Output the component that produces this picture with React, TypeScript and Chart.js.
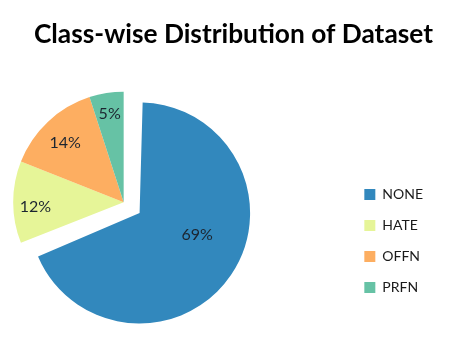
import React, { useEffect, useRef } from "react";
import { Chart, registerables } from "chart.js";

Chart.register(...registerables);

const TITLE = "Class-wise Distribution of Dataset";
const categories = ["NONE", "HATE", "OFFN", "PRFN"];
const shares = [69, 12, 14, 5];
const sliceColors = ["#3288bd", "#e6f598", "#fdae61", "#66c2a5"];
const sliceOffsets = [77, 0, 0, 0];

const FONT = "Lato, 'Open Sans', sans-serif";
// the canvas extends 100px past the left edge of the window so the pie can sit left of the legend
const SHIFT = 100;
const W = 474 + SHIFT;
const H = 354;

// Chart.js enlarges the radius of exploded slices; undo that so an exploded slice is only moved out
const radiusGrowth = (arc: any) => {
  const off = (arc.options.offset || 0) / 4;
  return off * (1 - Math.sin(Math.min(Math.PI, arc.circumference || 0)));
};

const pureExplode = {
  id: "pureExplode",
  afterDatasetsUpdate(chart: any) {
    chart.getDatasetMeta(0).data.forEach((arc: any) => {
      arc.outerRadius -= radiusGrowth(arc);
    });
  },
};

const percentLabels = {
  id: "percentLabels",
  afterDatasetsDraw(chart: any, _args: any, opts: any) {
    const meta = chart.getDatasetMeta(0);
    const data = chart.data.datasets[0].data as number[];
    const total = data.reduce((a, b) => a + b, 0);
    const ctx = chart.ctx;
    ctx.save();
    ctx.font = opts.font;
    ctx.fillStyle = opts.color;
    ctx.textAlign = "center";
    ctx.textBaseline = "middle";
    meta.data.forEach((arc: any, i: number) => {
      const mid = (arc.startAngle + arc.endAngle) / 2;
      const off = (arc.options.offset || 0) / 4;
      const cx = arc.x + Math.cos(mid) * off;
      const cy = arc.y + Math.sin(mid) * off;
      const place = opts.placement[i];
      const a = mid + (place.da * Math.PI) / 180;
      const r = (arc.outerRadius + radiusGrowth(arc)) * place.r;
      const txt = Math.round((data[i] / total) * 100) + "%";
      ctx.fillText(txt, cx + Math.cos(a) * r, cy + Math.sin(a) * r);
    });
    ctx.restore();
  },
};

export default function App() {
  const ref = useRef<HTMLCanvasElement | null>(null);
  useEffect(() => {
    if (!ref.current) return;
    const chart = new Chart(ref.current, {
      type: "pie",
      data: {
        labels: categories,
        datasets: [
          {
            data: shares,
            backgroundColor: sliceColors,
            borderWidth: 0,
            offset: sliceOffsets,
            radius: 110.5,
          } as any,
        ],
      },
      options: {
        animation: false,
        responsive: false,
        events: [],
        layout: { padding: { left: 0, right: 41, top: 0, bottom: 5.2 } },
        plugins: {
          title: {
            display: true,
            text: TITLE,
            align: "end",
            color: "#000",
            font: { family: FONT, size: 26.3, weight: "bold", lineHeight: 1.2 },
            padding: { top: 19, bottom: 5 },
          },
          legend: {
            display: true,
            position: "right",
            align: "center",
            title: {
              display: true,
              text: "",
              font: { family: FONT, size: 12, lineHeight: 1.2 },
              padding: { top: 0, bottom: 118.8 },
            },
            labels: {
              boxWidth: 11,
              boxHeight: 11,
              padding: 17,
              color: "#1a1a1a",
              font: { family: FONT, size: 14 },
            },
          },
          tooltip: { enabled: false },
          percentLabels: {
            font: `16px ${FONT}`,
            color: "#1c2530",
            placement: [
              { r: 0.557, da: -13.6 },
              { r: 0.8, da: -2.8 },
              { r: 0.755, da: -1.3 },
              { r: 0.81, da: 0 },
            ],
          },
        } as any,
      },
      plugins: [pureExplode, percentLabels],
    });
    return () => chart.destroy();
  }, []);
  return (
    <div style={{ position: "fixed", left: -SHIFT, top: 0, width: W, height: H, background: "#fff" }}>
      <canvas ref={ref} width={W} height={H} style={{ width: W, height: H, display: "block" }} />
    </div>
  );
}
